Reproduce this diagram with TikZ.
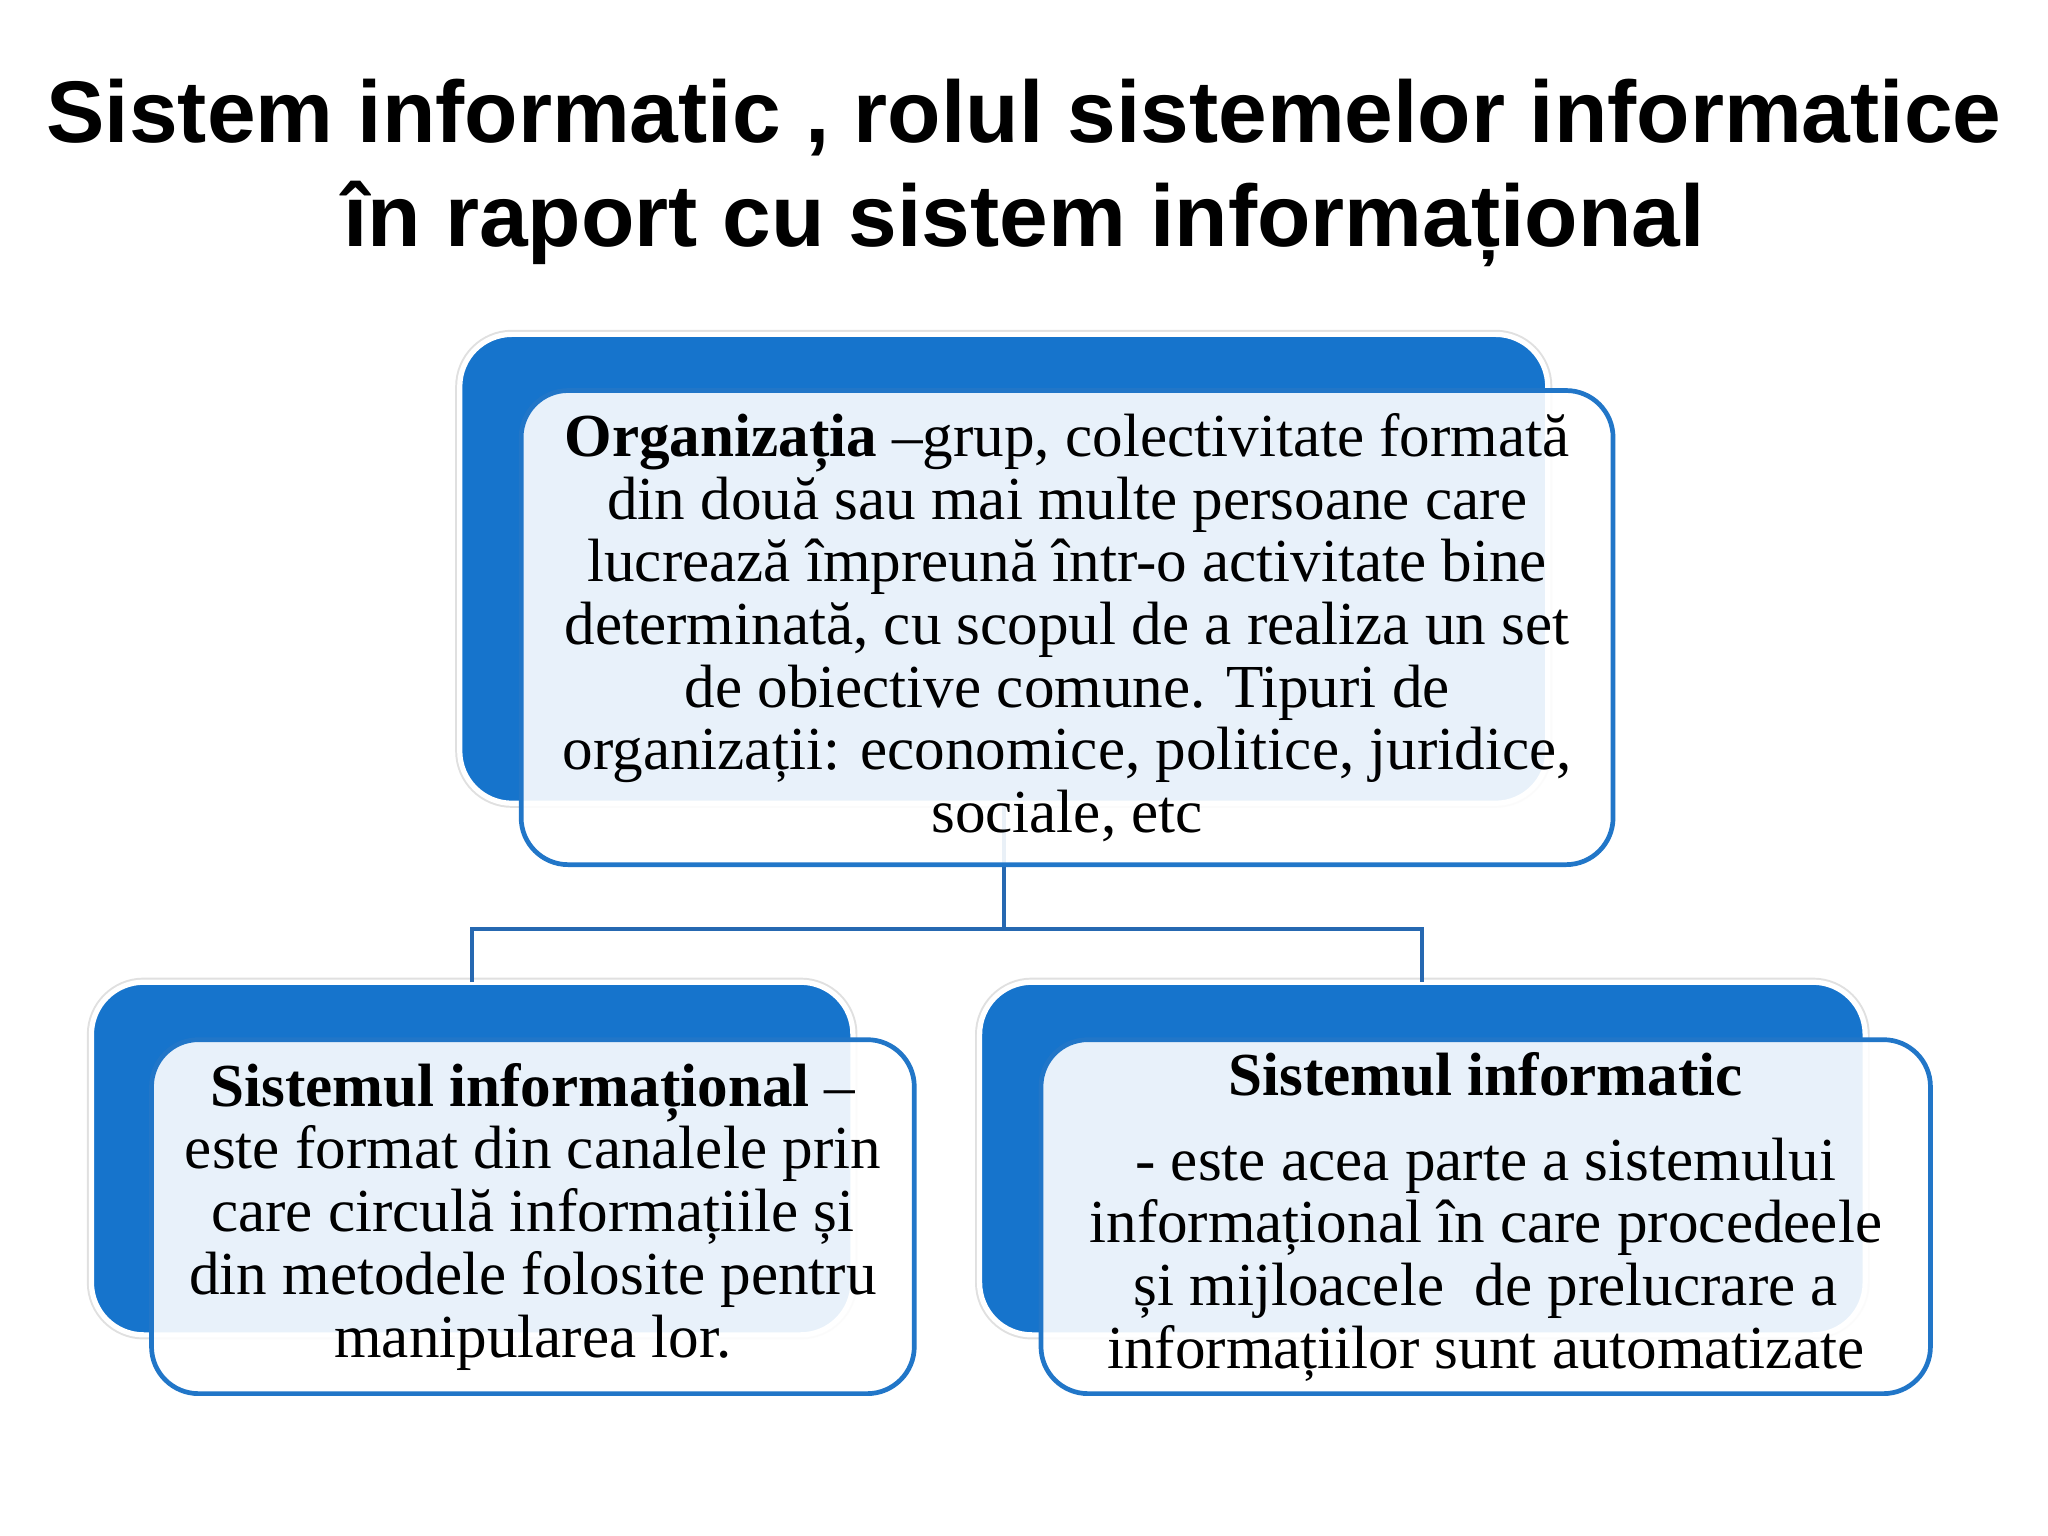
\documentclass[tikz,border=0pt]{standalone}
\usepackage{fontspec}
\setmainfont{Liberation Serif}
\newfontfamily\titlefont{Liberation Sans}
\definecolor{mainblue}{RGB}{22,116,204}
\definecolor{frontblue}{RGB}{33,118,200}
\definecolor{linkblue}{RGB}{38,104,177}
\begin{document}
\begin{tikzpicture}[x=0.5pt,y=-0.5pt,
  backbox/.style={rectangle, rounded corners=20pt, fill=mainblue, draw=white, line width=2pt,
    preaction={draw=black!12, line width=3.5pt}, inner sep=0pt, outer sep=0pt},
  frontbox/.style={rectangle, rounded corners=18pt, fill=white, fill opacity=0.9, text opacity=1,
    draw=frontblue, draw opacity=1, line width=1.8pt, inner sep=0pt, outer sep=0pt, align=center,
    font=\fontsize{23.4}{24}\selectfont},
  link/.style={draw=linkblue, line width=1.5pt},
  titletext/.style={font=\titlefont\bfseries\fontsize{33.5}{40}\selectfont, inner sep=0pt, anchor=base}]
\fill[white] (0,0) rectangle (1568,1176);
\useasboundingbox (0,0) rectangle (1568,1176);

\node[titletext] (t1) at (784,109) {Sistem informatic , rolul sistemelor informatice};
\node[titletext] (t2) at (784,189) {în raport cu sistem informațional};

\node[backbox, minimum width=416.5pt, minimum height=179.5pt] (backA) at (768.5,435.5) {};
\node[backbox, minimum width=291.5pt, minimum height=135pt] (backB) at (361.5,887) {};
\node[backbox, minimum width=339pt, minimum height=135pt] (backC) at (1089,887) {};

\coordinate (bar) at (768.5,711);
\draw[link] (backA.south) -- (bar);
\draw[link] (backB.north) |- (bar) -| (backC.north);

\node[frontbox, minimum width=418pt, minimum height=181.5pt] (frontA) at (817,480.5)
{\textbf{Organizația} –grup, colectivitate formată\\
din două sau mai multe persoane care\\
lucrează împreună într-o activitate bine\\
determinată, cu scopul de a realiza un set\\
de obiective comune. Tipuri de\\
organizații: economice, politice, juridice,\\
sociale, etc};

\node[frontbox, minimum width=292pt, minimum height=135.5pt] (frontB) at (408,931.5)
{\textbf{Sistemul informațional} –\\
este format din canalele prin\\
care circulă informațiile și\\
din metodele folosite pentru\\
manipularea lor.};

\node[frontbox, minimum width=340.5pt, minimum height=135.5pt] (frontC) at (1137.5,931.5)
{\textbf{Sistemul informatic}\\[8.5pt]
- este acea parte a sistemului\\
informațional în care procedeele\\
și mijloacele\ \ de prelucrare a\\
informațiilor sunt automatizate};
\end{tikzpicture}
\end{document}
